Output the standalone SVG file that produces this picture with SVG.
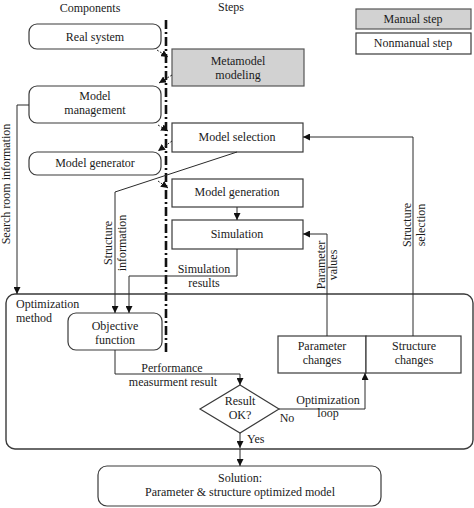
<svg xmlns="http://www.w3.org/2000/svg" width="474" height="508" viewBox="0 0 474 508">
<style>
text{font-family:"Liberation Serif","DejaVu Serif",serif;font-size:12px;fill:#1a1a1a;text-anchor:middle}
.lt{text-anchor:start}
.box{fill:#fff;stroke:#3a3a3a;stroke-width:1.2}
.man{fill:#d2d2d2;stroke:#555;stroke-width:1.2}
.ln{fill:none;stroke:#2a2a2a;stroke-width:1}
.dsh{fill:none;stroke:#222;stroke-width:1;stroke-dasharray:2 1.5}
.axis{fill:none;stroke:#111;stroke-width:2.6;stroke-dasharray:9 3 2 3}
</style>
<defs>
<marker id="ah" viewBox="0 0 10 10" refX="10" refY="5" markerWidth="7" markerHeight="7" markerUnits="userSpaceOnUse" orient="auto">
<path d="M0,0 L10,5 L0,10 Z" fill="#111"/>
</marker>
</defs>
<text x="90" y="12">Components</text>
<text x="231" y="11">Steps</text>
<line class="axis" x1="166" y1="20" x2="166" y2="353"/>
<g id="legend-manual"><rect class="man" x="356" y="9" width="115" height="20"/><text x="413" y="23">Manual step</text></g>
<g id="legend-nonmanual"><rect class="box" x="356" y="33" width="115" height="21"/><text x="413" y="47">Nonmanual step</text></g>
<g id="real-system"><rect class="box" x="29" y="24" width="132" height="25" rx="8"/><text x="95" y="41">Real system</text></g>
<g id="metamodel"><rect class="man" x="172" y="49" width="132" height="37"/><text x="238" y="65">Metamodel</text><text x="238" y="79">modeling</text></g>
<g id="model-management"><rect class="box" x="29" y="86" width="132" height="37" rx="8"/><text x="95" y="100">Model</text><text x="95" y="114">management</text></g>
<g id="model-selection"><rect class="box" x="172" y="123" width="131" height="29"/><text x="237" y="141">Model selection</text></g>
<g id="model-generator"><rect class="box" x="29" y="152" width="132" height="23" rx="8"/><text x="95" y="167">Model generator</text></g>
<g id="model-generation"><rect class="box" x="172" y="179" width="131" height="28"/><text x="237" y="196">Model generation</text></g>
<g id="simulation"><rect class="box" x="172" y="220" width="131" height="29"/><text x="237" y="238">Simulation</text></g>
<g id="optimization-method"><rect class="box" x="6" y="294" width="467" height="155" rx="9" style="fill:none;stroke-width:1.4"/><text class="lt" x="16" y="308">Optimization</text><text class="lt" x="16" y="322">method</text></g>
<g id="objective-function"><rect class="box" x="68" y="313" width="94" height="37" rx="8"/><text x="115" y="330">Objective</text><text x="115" y="344">function</text></g>
<g id="parameter-changes"><rect class="box" x="278" y="336" width="88" height="37"/><text x="322" y="350">Parameter</text><text x="322" y="364">changes</text></g>
<g id="structure-changes"><rect class="box" x="366" y="336" width="95" height="37"/><text x="414" y="350">Structure</text><text x="414" y="364">changes</text></g>
<g id="result-ok"><polygon class="box" points="240,385 279,409 240,433 200,409"/><text x="240" y="405">Result</text><text x="240" y="419">OK?</text></g>
<g id="solution"><rect class="box" x="98" y="466" width="283" height="40" rx="9"/><text x="240" y="482">Solution:</text><text x="240" y="496">Parameter &amp; structure optimized model</text></g>
<g id="connectors">
<polyline class="dsh" points="157,50 168,57" marker-end="url(#ah)"/>
<polyline class="dsh" points="172,75 159,83" marker-end="url(#ah)"/>
<polyline class="dsh" points="158,125 168,131" marker-end="url(#ah)"/>
<polyline class="dsh" points="172,141 158,151" marker-end="url(#ah)"/>
<polyline class="dsh" points="158,181 168,188" marker-end="url(#ah)"/>
<polyline class="ln" points="29,105 17,105 17,294" marker-end="url(#ah)"/>
<polyline class="ln" points="237,152 115,192 115,313" marker-end="url(#ah)"/>
<polyline class="ln" points="237,249 237,276 129,276 129,313" marker-end="url(#ah)"/>
<polyline class="ln" points="237,207 237,220" marker-end="url(#ah)"/>
<polyline class="ln" points="327,336 327,234 303,234" marker-end="url(#ah)"/>
<polyline class="ln" points="413,336 413,137 303,137" marker-end="url(#ah)"/>
<polyline class="ln" points="115,350 115,374 240,374 240,385" marker-end="url(#ah)"/>
<polyline class="ln" points="279,409 365,409 365,373" marker-end="url(#ah)"/>
<polyline class="ln" points="240,433 240,448" marker-end="url(#ah)"/>
<polyline class="ln" points="240,449 240,466" marker-end="url(#ah)"/>
<text transform="translate(10,184) rotate(-90)">Search room information</text>
<text transform="translate(112,243) rotate(-90)">Structure</text>
<text transform="translate(126,243) rotate(-90)">information</text>
<text x="204" y="273">Simulation</text>
<text x="204" y="287">results</text>
<text transform="translate(325,265) rotate(-90)">Parameter</text>
<text transform="translate(337,265) rotate(-90)">values</text>
<text transform="translate(411,225) rotate(-90)">Structure</text>
<text transform="translate(425,225) rotate(-90)">selection</text>
<text x="172" y="372">Performance</text>
<text x="173" y="386">measurment result</text>
<text x="328" y="404">Optimization</text>
<text x="328" y="417">loop</text>
<text x="287" y="422">No</text>
<text class="lt" x="247" y="443">Yes</text>
</g>
</svg>
